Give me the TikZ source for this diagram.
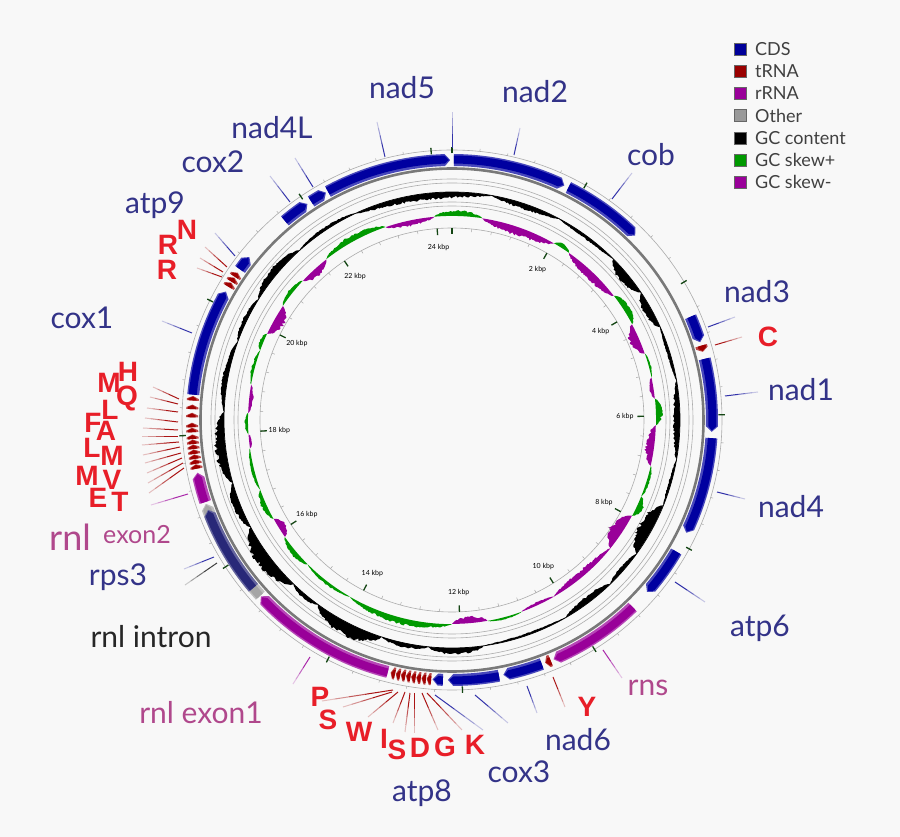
\documentclass[tikz,border=0pt]{standalone}
\usepackage{fontspec}
\usetikzlibrary{calc}
\setmainfont{Lato}
\newfontfamily\boldsans{Liberation Sans}
\definecolor{bg}{RGB}{248,248,248}
\definecolor{cds}{RGB}{0,0,160}
\definecolor{trna}{RGB}{160,0,0}
\definecolor{rrna}{RGB}{153,0,153}
\definecolor{other}{RGB}{165,165,165}
\definecolor{rpsc}{RGB}{40,40,120}
\definecolor{skp}{RGB}{0,153,0}
\definecolor{skm}{RGB}{153,0,153}
\definecolor{tickc}{RGB}{20,70,20}
\definecolor{cdslab}{RGB}{51,51,136}
\definecolor{rrlab}{RGB}{176,72,140}
\definecolor{trlab}{RGB}{232,30,40}
\definecolor{cdsline}{RGB}{50,50,170}
\definecolor{trline}{RGB}{170,20,20}
\definecolor{rrline}{RGB}{170,40,170}
\definecolor{legcds}{RGB}{0,0,153}
\definecolor{legtr}{RGB}{153,0,0}
\definecolor{legoth}{RGB}{153,153,153}
\tikzset{
 lab/.style={inner sep=0pt, font=\fontsize{30}{32}\selectfont},
 cdsl/.style={lab, text=cdslab},
 rrl/.style={lab, text=rrlab},
 trl/.style={inner sep=0pt, font=\boldsans\bfseries\fontsize{28}{30}\selectfont, text=trlab},
 cline/.style={draw=cdsline, line width=1pt},
 tline/.style={draw=trline, line width=1pt},
 rline/.style={draw=rrline, line width=1pt},
 kline/.style={draw=black!75, line width=1pt},
 thinring/.style={draw=gray!65, line width=0.6pt},
 legbox/.style={draw=black!60, line width=0.5pt, minimum size=12pt, inner sep=0pt},
 legtext/.style={anchor=west, inner sep=0pt, text=black!75, font=\fontsize{18}{20}\selectfont},
 kbp/.style={inner sep=0pt, font=\fontsize{7}{8}\selectfont},
}
% feature arrow: colour, start angle, end angle (clockwise degrees from top)
\newcommand\feat[3]{%
 \pgfmathsetmacro\fa{90-(#2)}%
 \pgfmathsetmacro\fb{90-(#3)}%
 \pgfmathsetmacro\ft{\fb+min(1.2,((#3)-(#2))*0.6)}%
 \pgfmathsetmacro\fc{\fb+0.25*min(1.2,((#3)-(#2))*0.6)}%
 \fill[#1!72!white] (\fa:266) arc[start angle=\fa, end angle=\ft, radius=266] -- (\fb:260) -- (\ft:254) arc[start angle=\ft, end angle=\fa, radius=254] -- cycle;
 \fill[#1] (\fa:264.5) arc[start angle=\fa, end angle=\ft, radius=264.5] -- (\fc:260) -- (\ft:256.5) arc[start angle=\ft, end angle=\fa, radius=256.5] -- cycle;}
% plot bump: colour, baseline, start, end, amplitude
\newcommand\gcbump[5]{%
 \pgfmathsetmacro\ga{90-(#3)}%
 \pgfmathsetmacro\gb{90-(#4)}%
 \pgfmathtruncatemacro\gn{max(4,((#4)-(#3))*2.5)}%
 \fill[#1] plot[domain=0:1, samples=\gn, variable=\t] ({90-((#3)+((#4)-(#3))*\t)}:{(#2)+(#5)*pow(max(sin(180*\t),0.001),0.6)*(0.78+0.44*rnd)}) arc[start angle=\gb, end angle=\ga, radius=#2] -- cycle;}
\newcommand\conn[4]{\coordinate (#2a) at (#3); \coordinate (#2b) at (#4);
 \draw[#1] (#2a) -- ($(#2a)!0.4!(#2b)$);
 \draw[#1, draw opacity=0.7] ($(#2a)!0.4!(#2b)$) -- ($(#2a)!0.62!(#2b)$);
 \draw[#1, draw opacity=0.45] ($(#2a)!0.62!(#2b)$) -- ($(#2a)!0.82!(#2b)$);
 \draw[#1, draw opacity=0.25] ($(#2a)!0.82!(#2b)$) -- (#2b);}
\begin{document}
\begin{tikzpicture}[x=1pt,y=1pt]
\pgfmathsetseed{4242}
\fill[bg] (-452,-417) rectangle (448,420);
\useasboundingbox (-452,-417) rectangle (448,420);
% rings
\foreach \r in {270,241,237,218,214,192} \draw[thinring] (0,0) circle[radius=\r];
% GC content
\draw[black, line width=0.7pt] (0,0) circle[radius=228];
\foreach \a/\b/\m in {-25/10/-6, 10/28/-5, 28/45/-3, 45/56/-9, 56/66/-8, 66/80/-3, 80/100/-6, 100/112/-2.5, 112/126/-13, 126/136/-4, 136/150/-6, 150/172/-2, 172/186/6, 186/198/4, 198/216/12, 216/224/4, 224/242/13, 242/254/7, 254/272/10, 272/290/5, 290/302/4, 302/318/7, 318/335/3}
 {\gcbump{black}{228}{\a}{\b}{\m}}
% GC skew
\foreach \a/\b/\m in {-5/8.5/5, 30/35/4, 52.5/62/6, 71/78/2, 84/91.5/6, 103/112/3, 112/118/6, 160/170/2, 180/210/6, 210/225/3, 225/235/5, 241/250/5, 250/262/3, 266/272/3, 280/290/3, 290/295/4, 304/313/4, 322/341/6}
 {\gcbump{skp}{204}{\a}{\b}{\m}}
\foreach \a/\b/\m in {8.5/30/-8, 35/52.5/-8, 62/71/-9, 78/84/-4, 91.5/103/-8, 118/129/-12, 129/150/-6, 150/160/-3, 170/180/-6, 235/241/-7, 262/266/-3, 272/280/-4, 295/304/-10, 313/322/-7, 341/355/-5}
 {\gcbump{skm}{204}{\a}{\b}{\m}}
% ticks
\foreach \i in {0,...,60} {
 \draw[gray!70, line width=0.5pt] ({90-\i*5.92593}:192) -- ({90-\i*5.92593}:189);
 \draw[gray!70, line width=0.5pt] ({90-\i*5.92593}:270) -- ({90-\i*5.92593}:272.5);
}
\foreach \i in {0,...,12} {
 \draw[tickc, line width=1.3pt] ({90-\i*29.6296}:192) -- ({90-\i*29.6296}:185.5);
}
\foreach \i in {1,...,12} {
 \pgfmathtruncatemacro\kk{2*\i}
 \node[kbp] (kb\i) at ({90-\i*29.6296}:173) {\kk\ kbp};
}
% backbone
\draw[gray!95!black, line width=2.6pt] (0,0) circle[radius=251.5];
% features
\feat{cds}{331.5}{359.6}
\feat{cds}{0.4}{25.6}
\feat{cds}{26.6}{44.8}
\feat{cds}{66.6}{72.6}
\feat{trna}{73.4}{74.8}
\feat{cds}{76.4}{92.6}
\feat{cds}{94.0}{115.7}
\feat{cds}{120.4}{131.4}
\feat{rrna}{136.0}{157.0}
\feat{trna}{157.7}{159.0}
\feat{cds}{159.8}{168.6}
\feat{cds}{169.6}{180.9}
\feat{cds}{182.0}{184.3}
\foreach \s in {184.6,185.75,186.9,188.05,189.2,190.35,191.5,192.65} {\feat{trna}{\s}{\s+1.0}}
\feat{rrna}{194.3}{227.3}
\feat{other}{227.5}{251.2}
\feat{rpsc}{229.8}{249.8}
\feat{rrna}{251.6}{258.3}
\foreach \s in {259.2,260.3,261.4,262.5,263.6,264.7,265.8,267.3,268.4,270.6,272.4,274.3} {\feat{trna}{\s}{\s+1.0}}
\feat{cds}{275.6}{299.6}
\foreach \s in {300.8,302.1,303.4} {\feat{trna}{\s}{\s+1.1}}
\feat{cds}{305.4}{308.8}
\feat{cds}{320.0}{326.2}
\feat{cds}{327.2}{331.0}
\foreach \i in {0,...,12} {
 \draw[tickc, line width=1.3pt] ({90-\i*29.6296}:266.5) -- ({90-\i*29.6296}:273);
}
% connectors
\conn{cline}{ctop}{1,272}{1,308}
\conn{cline}{c1}{-67,263}{-75,298}
\conn{cline}{c2}{62,265}{68,292}
\conn{cline}{c3}{-139,233}{-157,262}
\conn{cline}{c4}{-162,218}{-182,244}
\conn{cline}{c5}{-217,164}{-237,187}
\conn{tline}{c6}{-225,153}{-247,173}
\conn{tline}{c7}{-229,148}{-252,162}
\conn{tline}{c8}{-230,143}{-255,152}
\conn{cline}{c9}{-260,87}{-290,99}
\conn{cline}{c10}{160,221}{180,247}
\conn{cline}{c11}{256,93}{283,103}
\conn{tline}{c12}{263,75}{290,83}
\conn{cline}{c13}{273,24}{306,28}
\conn{cline}{c14}{265,-72}{293,-79}
\conn{cline}{c15}{223,-162}{253,-182}
\conn{rline}{c16}{151,-230}{170,-258}
\conn{tline}{c17}{101,-257}{113,-287}
\conn{cline}{c18}{75,-266}{85,-293}
\conn{cline}{c19}{23,-275}{56,-303}
\conn{cline}{c20}{-17,-275}{31,-310}
\conn{tline}{c21}{-25,-273}{10,-310}
\conn{tline}{c22}{-30,-273}{-14,-310}
\conn{tline}{c23}{-37,-273}{-37,-313}
\conn{tline}{c24}{-42,-273}{-47,-312}
\conn{tline}{c25}{-47,-272}{-59,-303}
\conn{tline}{c26}{-54,-272}{-84,-297}
\conn{tline}{c27}{-60,-272}{-109,-287}
\conn{tline}{c28}{-59,-270}{-130,-281}
\conn{rline}{c29}{-142,-237}{-159,-264}
\conn{cline}{c30}{-238,-137}{-268,-149}
\conn{kline}{c31}{-235,-143}{-267,-165}
\conn{rline}{c32}{-264,-74}{-301,-85}
\conn{tline}{d1}{-273,21}{-299,33}
\conn{tline}{d2}{-274,16}{-302,23}
\conn{tline}{d3}{-274,8}{-305,12}
\conn{tline}{d4}{-274,-2}{-307,2}
\conn{tline}{d5}{-274,-10}{-309,-8}
\conn{tline}{d6}{-274,-17}{-310,-17}
\conn{tline}{d7}{-273,-22}{-310,-25}
\conn{tline}{d8}{-272,-27}{-309,-35}
\conn{tline}{d9}{-271,-33}{-307,-43}
\conn{tline}{d10}{-270,-38}{-305,-53}
\conn{tline}{d11}{-269,-43}{-304,-63}
\conn{tline}{d12}{-268,-48}{-303,-73}
% labels
\node[cdsl] (Lnad5) at (-50,332) {nad5};
\node[cdsl] (Lnad2) at (83,328) {nad2};
\node[cdsl] (Lnad4L) at (-180,292) {nad4L};
\node[cdsl] (Lcox2) at (-239,258) {cox2};
\node[cdsl] (Latp9) at (-297,215) {atp9};
\node[trl] (LN) at (-265,190) {N};
\node[trl] (LR1) at (-284,175) {R};
\node[trl] (LR2) at (-285,150) {R};
\node[cdsl] (Lcox1) at (-370,102) {cox1};
\node[cdsl] (Lcob) at (199,265) {cob};
\node[cdsl] (Lnad3) at (305,128) {nad3};
\node[trl] (LC) at (316,83) {C};
\node[cdsl] (Lnad1) at (349,30) {nad1};
\node[cdsl] (Lnad4) at (339,-87) {nad4};
\node[cdsl] (Latp6) at (308,-208) {atp6};
\node[rrl] (Lrns) at (196,-268) {rns};
\node[trl] (LY) at (135,-287) {Y};
\node[cdsl] (Lnad6) at (126,-320) {nad6};
\node[cdsl] (Lcox3) at (67,-352) {cox3};
\node[cdsl] (Latp8) at (-30,-373) {atp8};
\node[trl] (LP) at (-132,-277) {P};
\node[trl] (LS1) at (-124,-300) {S};
\node[trl] (LW) at (-93,-312) {W};
\node[trl] (LI) at (-68,-319) {I};
\node[trl] (LS2) at (-55,-330) {S};
\node[trl] (LD) at (-32,-328) {D};
\node[trl] (LG) at (-7,-327) {G};
\node[trl] (LK) at (23,-325) {K};
\node[rrl] (Lexon1) at (-251,-293) {rnl exon1};
\node[lab, text=black!85] (Lintron) at (-301,-217) {rnl intron};
\node[cdsl] (Lrps3) at (-334,-157) {rps3};
\node[rrl, font=\fontsize{36}{38}\selectfont] (Lrnl) at (-382,-117) {rnl};
\node[rrl, font=\fontsize{25}{27}\selectfont] (Lexon2) at (-315,-115) {exon2};
\node[trl] (LH) at (-324,48) {H};
\node[trl] (LM1) at (-343,37) {M};
\node[trl] (LQ) at (-325,22) {Q};
\node[trl] (LL1) at (-342,10) {L};
\node[trl] (LF) at (-359,-3) {F};
\node[trl] (LA) at (-346,-11) {A};
\node[trl] (LL2) at (-360,-28) {L};
\node[trl] (LM2) at (-340,-36) {M};
\node[trl] (LM3) at (-365,-56) {M};
\node[trl] (LV) at (-340,-60) {V};
\node[trl] (LE) at (-354,-78) {E};
\node[trl] (LT) at (-332,-82) {T};
% legend
\foreach \c/\tx [count=\i] in {legcds/CDS, legtr/tRNA, rrna/rRNA, legoth/Other, black/GC content, skp/GC skew+, skm/GC skew-} {
 \node[legbox, fill=\c] (lb\i) at (288,{371-(\i-1)*22.2}) {};
 \node[legtext] (lt\i) at (303,{371-(\i-1)*22.2}) {\tx};
}
\end{tikzpicture}
\end{document}
